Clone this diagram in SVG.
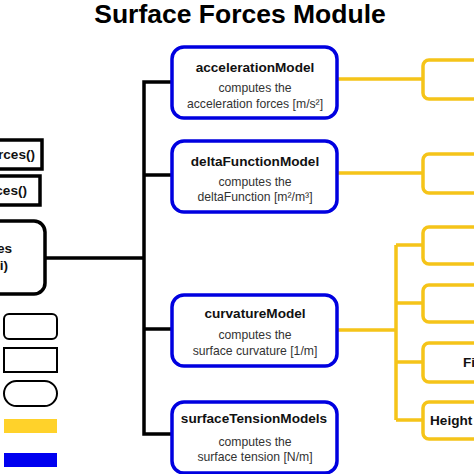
<svg xmlns="http://www.w3.org/2000/svg" width="474" height="474" viewBox="0 0 474 474">
<style>
.title{font-family:"Liberation Sans",Arial,sans-serif;font-weight:bold;font-size:26.5px;fill:#000}
.bt{font-family:"Liberation Sans",Arial,sans-serif;font-weight:bold;font-size:13.6px;fill:#111}
.rt{font-family:"Liberation Sans",Arial,sans-serif;font-size:12.2px;fill:#333}
.model{fill:#fff;stroke:#0000E0;stroke-width:3.5}
.ybox{fill:#fff;stroke:#F5C419;stroke-width:3.5}
.kbox{fill:#fff;stroke:#000;stroke-width:3.5}
.leg{fill:#fff;stroke:#000;stroke-width:2}
.kline{fill:none;stroke:#000;stroke-width:3.5}
.yline{fill:none;stroke:#F5C419;stroke-width:3.5}
</style>
<rect width="474" height="474" fill="#fff"/>
<text class="title" x="240" y="23" text-anchor="middle">Surface Forces Module</text>

<g id="connectors">
<path class="kline" d="M172,82 H144 V434 H172 M144,175 H172 M144,329 H172 M45,258 H144"/>
<path class="yline" d="M337,79 H423 M337,173 H423 M337,330 H396 M396,245 V420 M396,245 H423 M396,303 H423 M396,362 H423 M396,420 H423"/>
</g>

<g id="leftBox1"><rect class="kbox" x="-10" y="140" width="52" height="29"/><text class="bt" x="35" y="159" text-anchor="end">rces()</text></g>
<g id="leftBox2"><rect class="kbox" x="-10" y="176" width="50" height="29"/><text class="bt" x="27" y="195" text-anchor="end">ces()</text></g>
<g id="leftMain"><rect class="kbox" x="-30" y="221" width="75" height="73" rx="11"/><text class="bt" x="12" y="253" text-anchor="end">es</text><text class="bt" x="8" y="270" text-anchor="end">i)</text></g>

<g id="accelerationModel"><rect class="model" x="172" y="47" width="165" height="71" rx="12"/>
<text class="bt" x="255" y="72" text-anchor="middle">accelerationModel</text>
<text class="rt" x="255" y="92" text-anchor="middle">computes the</text>
<text class="rt" x="255" y="108" text-anchor="middle">acceleration forces [m/s²]</text></g>

<g id="deltaFunctionModel"><rect class="model" x="172" y="141" width="165" height="71" rx="12"/>
<text class="bt" x="255" y="166" text-anchor="middle">deltaFunctionModel</text>
<text class="rt" x="255" y="186" text-anchor="middle">computes the</text>
<text class="rt" x="255" y="201" text-anchor="middle">deltaFunction [m²/m³]</text></g>

<g id="curvatureModel"><rect class="model" x="172" y="295" width="165" height="71" rx="12"/>
<text class="bt" x="255" y="318" text-anchor="middle">curvatureModel</text>
<text class="rt" x="255" y="339" text-anchor="middle">computes the</text>
<text class="rt" x="255" y="355" text-anchor="middle">surface curvature [1/m]</text></g>

<g id="surfaceTensionModels"><rect class="model" x="172" y="402" width="165" height="71" rx="12"/>
<text class="bt" x="254" y="423" text-anchor="middle">surfaceTensionModels</text>
<text class="rt" x="255" y="446" text-anchor="middle">computes the</text>
<text class="rt" x="255" y="461" text-anchor="middle">surface tension [N/m]</text></g>

<g id="yBox1"><rect class="ybox" x="423" y="60" width="70" height="39" rx="6"/></g>
<g id="yBox2"><rect class="ybox" x="423" y="154" width="70" height="39" rx="6"/></g>
<g id="yBox3"><rect class="ybox" x="423" y="227" width="70" height="37" rx="6"/></g>
<g id="yBox4"><rect class="ybox" x="423" y="285" width="70" height="37" rx="6"/></g>
<g id="yBox5"><rect class="ybox" x="423" y="343" width="70" height="39" rx="6"/><text class="bt" x="463" y="367">Fi</text></g>
<g id="yBox6"><rect class="ybox" x="423" y="402" width="70" height="37" rx="6"/><text class="bt" x="430" y="425">Height</text></g>

<g id="legend">
<rect class="leg" x="4" y="314" width="53" height="25" rx="5"/>
<rect class="leg" x="4" y="348" width="53" height="24"/>
<rect class="leg" x="4" y="381" width="53" height="25" rx="12.5"/>
<rect x="4" y="419" width="53" height="14" fill="#FFD22A"/>
<rect x="4" y="453" width="53" height="14" fill="#0000F0"/>
</g>
</svg>
